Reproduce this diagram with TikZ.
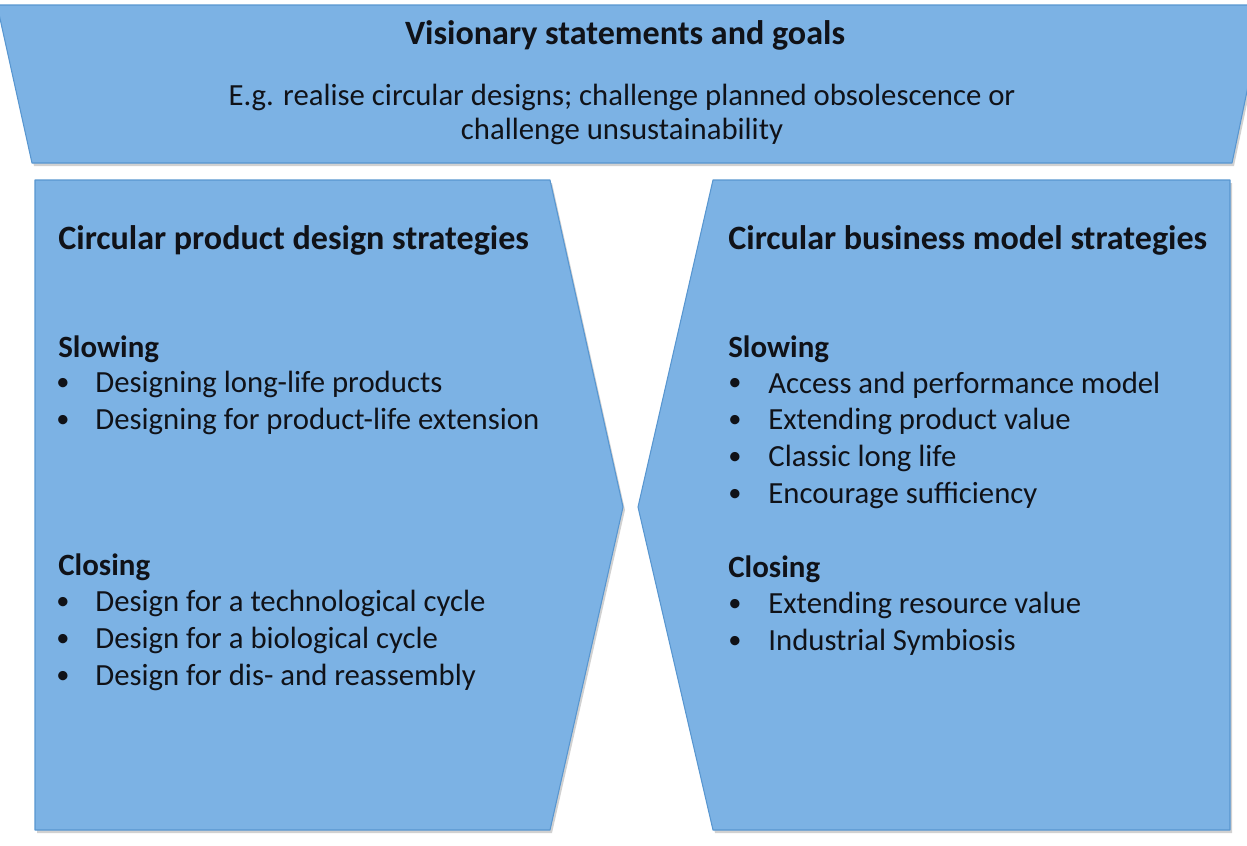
\documentclass[tikz,border=0pt]{standalone}
\usepackage{fontspec}
\setmainfont{Carlito}
\usepackage{tikz}
\usetikzlibrary{positioning, calc}

\definecolor{panelblue}{RGB}{124,178,228}
\definecolor{paneledge}{RGB}{88,150,208}
\definecolor{inktext}{RGB}{16,18,24}

\tikzset{
  panel/.style={fill=panelblue, draw=paneledge, line width=0.6pt, line join=round},
  panelshadow/.style={fill=black!18, draw=none},
  head/.style={font=\fontsize{19.4}{22}\selectfont\bfseries, text=inktext, inner sep=0pt, anchor=west},
  sub/.style={font=\fontsize{17.6}{20}\selectfont\bfseries, text=inktext, inner sep=0pt, anchor=west},
  item/.style={font=\fontsize{17.5}{20}\selectfont, text=inktext, inner sep=0pt, anchor=west},
  dot/.style={font=\fontsize{15}{18}\selectfont, text=inktext, inner sep=0pt},
  bannertext/.style={text=inktext, inner sep=0pt, align=center}
}

\begin{document}
\begin{tikzpicture}[x=0.02cm, y=-0.02cm]
  \useasboundingbox (0,0) rectangle (1247,845);
  % Shadows
  \path[panelshadow] (-1,8) -- (1267,8) -- (1234,166) -- (34,166) -- cycle;
  \path[panelshadow] (37,183) -- (552,183) -- (625,510) -- (552,833) -- (37,833) -- cycle;
  \path[panelshadow] (715,183) -- (1232,183) -- (1232,833) -- (715,833) -- (640,510) -- cycle;
  % Banner and chevrons
  \path[panel] (-3,5) -- (1265,5) -- (1232,163) -- (32,163) -- cycle;
  \path[panel] (35,180) -- (550,180) -- (623,507) -- (550,830) -- (35,830) -- cycle;
  \path[panel] (713,180) -- (1230,180) -- (1230,830) -- (713,830) -- (638,507) -- cycle;

  % Banner text
  \node[bannertext, font=\fontsize{19.4}{22}\selectfont\bfseries] (vision) at (625,35) {Visionary statements and goals};
  \node[bannertext, font=\fontsize{17.5}{20}\selectfont] (visionex1) at (622,97) {E.g. realise circular designs; challenge planned obsolescence or};
  \node[bannertext, font=\fontsize{17.5}{20}\selectfont] (visionex2) at (622,131) {challenge unsustainability};

  % Left: product design
  \node[head] (pdhead) at (58,240) {Circular product design strategies};
  \node[sub] (pdslow) at (58,349) {Slowing};
  \foreach \txt [count=\i] in {Designing long-life products, Designing for product-life extension}{
    \node[dot] (pdsdot\i) at (63,348+\i*36.5) {•};
    \node[item] (pds\i) at (95,348+\i*36.5) {\txt};
  }
  \node[sub] (pdclose) at (58,567) {Closing};
  \foreach \txt [count=\i] in {Design for a technological cycle, Design for a biological cycle, Design for dis- and reassembly}{
    \node[dot] (pdcdot\i) at (63,567+\i*36.7) {•};
    \node[item] (pdc\i) at (95,567+\i*36.7) {\txt};
  }

  % Right: business model
  \node[head] (bmhead) at (728,240) {Circular business model strategies};
  \node[sub] (bmslow) at (728,349) {Slowing};
  \foreach \txt [count=\i] in {Access and performance model, Extending product value, Classic long life, Encourage sufficiency}{
    \node[dot] (bmsdot\i) at (735,348+\i*36.8) {•};
    \node[item] (bms\i) at (768,348+\i*36.8) {\txt};
  }
  \node[sub] (bmclose) at (728,569) {Closing};
  \foreach \txt [count=\i] in {Extending resource value, Industrial Symbiosis}{
    \node[dot] (bmcdot\i) at (735,569+\i*36.5) {•};
    \node[item] (bmc\i) at (768,569+\i*36.5) {\txt};
  }
\end{tikzpicture}
\end{document}
